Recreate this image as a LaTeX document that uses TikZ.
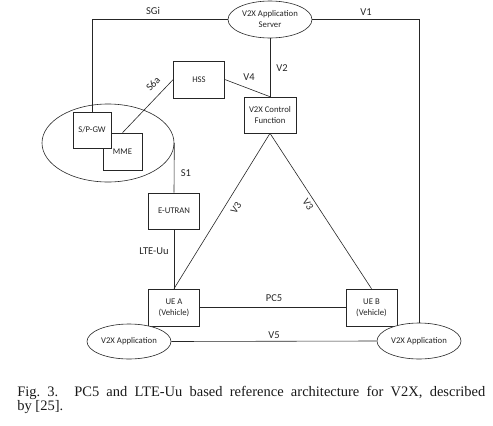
\documentclass[tikz,border=0pt]{standalone}
\usepackage{fontspec}
\setmainfont{Liberation Serif}
\newfontfamily\diag{Carlito}
\usetikzlibrary{shapes.geometric}
\begin{document}
\begin{tikzpicture}[x=1pt,y=-1pt,
  line width=0.6pt, draw=black!85,
  box/.style={draw=black!85, fill=white, minimum width=51pt, minimum height=36pt, inner sep=1pt, align=center, font=\diag\fontsize{8.7}{11}\selectfont, text=black!85},
  oval/.style={draw=black!85, ellipse, fill=white, minimum width=84pt, minimum height=36pt, inner sep=0pt, align=center, font=\diag\fontsize{8.7}{11}\selectfont, text=black!85},
  lbl/.style={font=\diag\fontsize{10.5}{12}\selectfont, text=black!85, inner sep=0pt}]
\useasboundingbox (0,0) rectangle (493,426);
% nodes
\node[draw=black!85, ellipse, minimum width=132pt, minimum height=78pt] (core) at (108,143) {};
\node[oval, minimum height=37pt] (server) at (270,19.5) {V2X Application\\Server};
\node[box, minimum height=37pt] (hss) at (199,79.5) {HSS};
\node[box, minimum width=52pt] (cf) at (270,115) {V2X Control\\Function};
\node[box, minimum width=39pt, minimum height=37pt] (mme) at (122.5,151.5) {MME};
\node[box, minimum width=38pt] (spgw) at (92,130) {S/P-GW};
\node[box] (eutran) at (174,211) {E-UTRAN};
\node[box, minimum height=37pt] (uea) at (174,307.5) {UE A\\(Vehicle)};
\node[box, minimum height=37pt] (ueb) at (371.5,307.5) {UE B\\(Vehicle)};
\node[oval, minimum height=35pt] (appL) at (129,341.5) {V2X Application};
\node[oval] (appR) at (419,341) {V2X Application};
% connectors
\draw (spgw.north) |- (server.west);
\draw (server.east) -| (appR.north);
\draw (server.south) -- (cf.north);
\draw (hss.east) -- (cf.north);
\draw (hss.west) -- (mme.north);
\draw (core.east) -- (eutran.north);
\draw (eutran.south) -- (uea.north);
\draw (uea.north) -- (cf.south);
\draw (cf.south) -- (ueb.north);
\draw (uea.east) -- (ueb.west);
\draw (appL.east) -- (appR.west);
% labels
\node[lbl] (lsgi) at (153,11) {SGi};
\node[lbl] (lv1) at (366,12) {V1};
\node[lbl] (lv2) at (282,68) {V2};
\node[lbl] (lv4) at (249,77) {V4};
\node[lbl, rotate=46] (ls6a) at (153,84) {S6a};
\node[lbl] (ls1) at (186,173) {S1};
\node[lbl] (llte) at (154,251) {LTE-Uu};
\node[lbl, rotate=58] (lv3a) at (236,208) {V3};
\node[lbl, rotate=-57] (lv3b) at (308,204) {V3};
\node[lbl] (lpc5) at (274,298) {PC5};
\node[lbl] (lv5) at (274,335) {V5};
% caption
\node[anchor=north west, text width=468pt, align=justify, inner sep=0pt, font=\fontsize{14.5}{11.5}\selectfont, text=black!90] (cap) at (17,386)
  {Fig.~3.\hspace{1.1em}PC5 and LTE-Uu based reference architecture for V2X, described\linebreak by [25].};
\end{tikzpicture}
\end{document}
